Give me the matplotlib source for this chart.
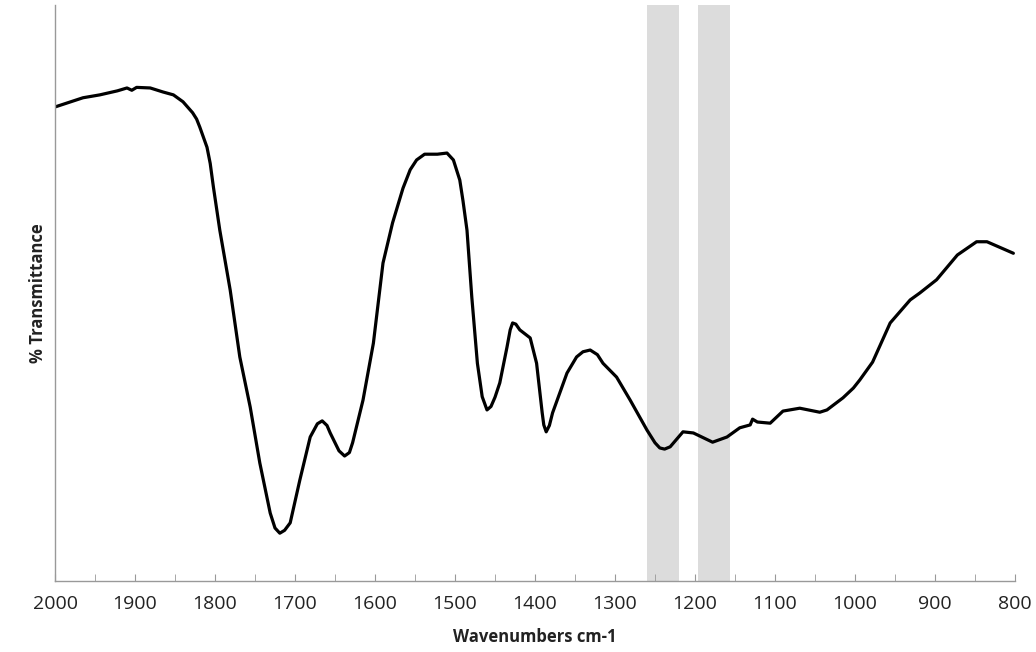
# FTIR spectrum, % transmittance vs wavenumber, two shaded bands
import numpy as np
import matplotlib.pyplot as plt
from matplotlib.ticker import MultipleLocator

# wavenumbers (cm-1) and transmittance (arbitrary %)
wavenumber = [2000, 1965, 1944, 1922, 1910, 1904, 1898, 1881, 1865, 1852,
              1840, 1828, 1823, 1819, 1810, 1806, 1802, 1794, 1781, 1769,
              1756, 1744, 1731, 1725, 1719, 1713, 1706, 1694, 1681, 1672,
              1666, 1660, 1656, 1645, 1638, 1632, 1628, 1615, 1602, 1590,
              1578, 1565, 1556, 1548, 1538, 1522, 1510, 1502, 1494, 1490,
              1485, 1479, 1472, 1466, 1460, 1455, 1450, 1444, 1435, 1431,
              1428, 1424, 1419, 1406, 1398, 1391, 1389, 1386, 1382, 1378,
              1360, 1348, 1340, 1331, 1322, 1315, 1298, 1281, 1260, 1250,
              1244, 1238, 1231, 1215, 1202, 1178, 1160, 1144, 1131, 1128,
              1122, 1106, 1090, 1069, 1044, 1035, 1015, 1002, 994, 978,
              956, 931, 919, 898, 872, 848, 835, 802]
transmittance = [82.3, 83.9, 84.4, 85.1, 85.6, 85.2, 85.7, 85.6, 84.9, 84.4,
                 83.2, 81.3, 80.2, 78.8, 75.3, 72.5, 68.4, 60.9, 50.5, 38.9,
                 30.2, 20.5, 11.8, 9.2, 8.3, 8.8, 10.1, 17.5, 25.0, 27.3,
                 27.8, 27.0, 25.7, 22.6, 21.7, 22.3, 24.0, 31.4, 41.3, 55.2,
                 62.2, 68.2, 71.4, 73.1, 74.1, 74.1, 74.3, 73.1, 69.6, 66.0,
                 60.9, 49.3, 37.8, 32.0, 29.7, 30.3, 31.9, 34.4, 40.6, 43.6,
                 44.8, 44.6, 43.6, 42.2, 37.8, 29.2, 27.1, 25.9, 27.0, 29.2,
                 36.1, 38.9, 39.8, 40.1, 39.3, 37.8, 35.4, 31.4, 26.2, 24.0,
                 23.1, 22.9, 23.3, 25.9, 25.7, 24.1, 25.0, 26.6, 27.1, 28.1,
                 27.6, 27.4, 29.5, 30.0, 29.3, 29.7, 31.8, 33.5, 34.9, 38.0,
                 44.8, 48.8, 50.0, 52.3, 56.6, 58.9, 58.9, 56.9]

# shaded regions (cm-1)
bands = [(1260, 1220), (1196, 1156)]

fig = plt.figure(figsize=(10.36, 6.52), dpi=100)
ax = fig.add_axes([0.0531, 0.1089, 0.9266, 0.8834])

for hi, lo in bands:
    ax.axvspan(lo, hi, color='#dcdcdc', lw=0, zorder=0)

ax.plot(wavenumber, transmittance, color='black', lw=2.3, zorder=2,
        solid_joinstyle='round', solid_capstyle='round')

ax.set_xlim(2000, 800)
ax.set_ylim(0, 100)

ax.xaxis.set_major_locator(MultipleLocator(100))
ax.xaxis.set_minor_locator(MultipleLocator(50))
ax.tick_params(axis='x', which='both', direction='in', length=5,
               color='#999999', labelsize=14, pad=10)
ax.set_yticks([])

for s in ['top', 'right']:
    ax.spines[s].set_visible(False)
for s in ['left', 'bottom']:
    ax.spines[s].set_color('#999999')
    ax.spines[s].set_linewidth(1.0)

for lab in ax.get_xticklabels():
    lab.set_family('Open Sans')
    lab.set_color('#222222')

ax.set_xlabel('Wavenumbers cm-1', family='Open Sans', fontweight='bold',
              fontsize=12, color='#222222', labelpad=11)
ax.set_ylabel('% Transmittance', family='Open Sans', fontweight='bold',
              fontsize=12, color='#222222', labelpad=6)

fig.savefig('out.png', dpi=100)
